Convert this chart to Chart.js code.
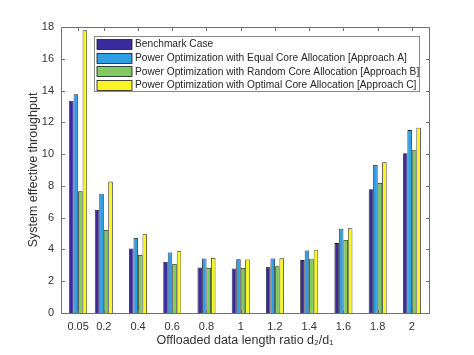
<!DOCTYPE html>
<html>
<head>
<meta charset="utf-8">
<script src="https://cdn.jsdelivr.net/npm/chart.js@4/dist/chart.umd.min.js"></script>
<style>
html,body{margin:0;padding:0;background:#fff;}
#wrap{width:474px;height:355px;position:relative;}
</style>
</head>
<body>
<div id="wrap"><canvas id="c" width="474" height="355"></canvas></div>
<script>
// Data
const ratios = [0.05, 0.2, 0.4, 0.6, 0.8, 1, 1.2, 1.4, 1.6, 1.8, 2];
const ratioLabels = ['0.05','0.2','0.4','0.6','0.8','1','1.2','1.4','1.6','1.8','2'];
const benchmark = [13.35, 6.49, 4.06, 3.22, 2.86, 2.80, 2.91, 3.33, 4.40, 7.79, 10.05];
const equalAlloc = [13.77, 7.51, 4.73, 3.81, 3.43, 3.39, 3.43, 3.93, 5.31, 9.32, 11.51];
const randomAlloc = [7.66, 5.23, 3.66, 3.08, 2.83, 2.83, 2.95, 3.41, 4.60, 8.18, 10.24];
const optimalAlloc = [17.8, 8.27, 4.96, 3.89, 3.47, 3.37, 3.45, 3.98, 5.34, 9.48, 11.66];
const yTicks = [0, 2, 4, 6, 8, 10, 12, 14, 16, 18];
const seriesNames = [
  'Benchmark Case',
  'Power Optimization with Equal Core Allocation [Approach A]',
  'Power Optimization with Random Core Allocation [Approach B]',
  'Power Optimization with Optimal Core Allocation [Approach C]'
];
const seriesColors = ['#3b2a9c', '#2c9fe6', '#80ca5e', '#f7f620'];

const FONT = '"Liberation Sans", Arial, Helvetica, sans-serif';
const series = [benchmark, equalAlloc, randomAlloc, optimalAlloc];

const datasets = series.map((vals, s) => ({
  label: seriesNames[s],
  data: ratios.map((r, i) => ({x: r, y: vals[i]})),
  backgroundColor: seriesColors[s],
  borderColor: '#1a1a1a',
  borderWidth: 0.8,
  categoryPercentage: 0.70,
  barPercentage: 1.0
}));

const boxPlugin = {
  id: 'boxPlugin',
  afterDraw(chart) {
    const ctx = chart.ctx;
    const a = chart.chartArea;
    const xs = chart.scales.x, ys = chart.scales.y;
    ctx.save();
    ctx.strokeStyle = '#707070';
    ctx.lineWidth = 1;
    const L = Math.round(a.left) + 0.5, R = Math.round(a.right) + 0.5;
    const T = Math.round(a.top) + 0.5, B = Math.round(a.bottom) + 0.5;
    ctx.beginPath();
    ctx.rect(L, T, R - L, B - T);
    const tl = 3.5;
    xs.ticks.forEach(t => {
      const p = Math.round(xs.getPixelForValue(t.value)) + 0.5;
      ctx.moveTo(p, B); ctx.lineTo(p, B - tl);
      ctx.moveTo(p, T); ctx.lineTo(p, T + tl);
    });
    ys.ticks.forEach(t => {
      const p = Math.round(ys.getPixelForValue(t.value)) + 0.5;
      ctx.moveTo(L, p); ctx.lineTo(L + tl, p);
      ctx.moveTo(R, p); ctx.lineTo(R - tl, p);
    });
    ctx.stroke();

    // legend inside the axes (top right)
    const lx = Math.round(a.left + 33.4) + 0.5;
    const ly = Math.round(a.top + 8.8) + 0.5;
    const lw = 325, lh = 55;
    ctx.fillStyle = '#ffffff';
    ctx.fillRect(lx, ly, lw, lh);
    ctx.strokeStyle = '#8a8a8a';
    ctx.strokeRect(lx, ly, lw, lh);
    ctx.font = '10.2px ' + FONT;
    ctx.textBaseline = 'middle';
    ctx.textAlign = 'left';
    chart.data.datasets.forEach((ds, i) => {
      const cy = ly + 7.5 + i * 13.6;
      ctx.fillStyle = ds.backgroundColor;
      ctx.fillRect(lx + 2.5, Math.round(cy - 5) + 0.5, 35, 10);
      ctx.strokeStyle = '#1a1a1a';
      ctx.lineWidth = 0.8;
      ctx.strokeRect(lx + 2.5, Math.round(cy - 5) + 0.5, 35, 10);
      ctx.fillStyle = '#262626';
      ctx.fillText(ds.label, lx + 40.5, cy + 0.5);
    });
    ctx.restore();
  }
};

new Chart(document.getElementById('c'), {
  type: 'bar',
  data: { datasets },
  plugins: [boxPlugin],
  options: {
    responsive: false,
    animation: false,
    layout: { padding: { left: 26, top: 27, right: 45, bottom: 7 } },
    plugins: { legend: { display: false }, tooltip: { enabled: false } },
    scales: {
      x: {
        type: 'linear',
        min: -0.05,
        max: 2.1,
        offset: false,
        grid: { display: false, drawTicks: false },
        border: { display: false },
        afterBuildTicks: s => { s.ticks = ratios.map(v => ({ value: v })); },
        afterFit: s => { s.height = 35; },
        ticks: {
          autoSkip: false,
          maxRotation: 0,
          padding: 7,
          color: '#333',
          font: { family: FONT, size: 11 },
          callback: (v, i) => ratioLabels[i]
        },
        title: {
          display: true,
          text: 'Offloaded data length ratio d\u2082/d\u2081',
          color: '#333',
          font: { family: FONT, size: 12.5 },
          padding: { top: 0, bottom: 0 }
        }
      },
      y: {
        min: 0,
        max: 18,
        grid: { display: false, drawTicks: false },
        border: { display: false },
        afterBuildTicks: s => { s.ticks = yTicks.map(v => ({ value: v })); },
        afterFit: s => { s.width = 35; },
        ticks: {
          padding: 7,
          color: '#333',
          font: { family: FONT, size: 11 }
        },
        title: {
          display: true,
          text: 'System effective throughput',
          color: '#333',
          font: { family: FONT, size: 12.5 },
          padding: { top: 0, bottom: 0 }
        }
      }
    }
  }
});
</script>
</body>
</html>
